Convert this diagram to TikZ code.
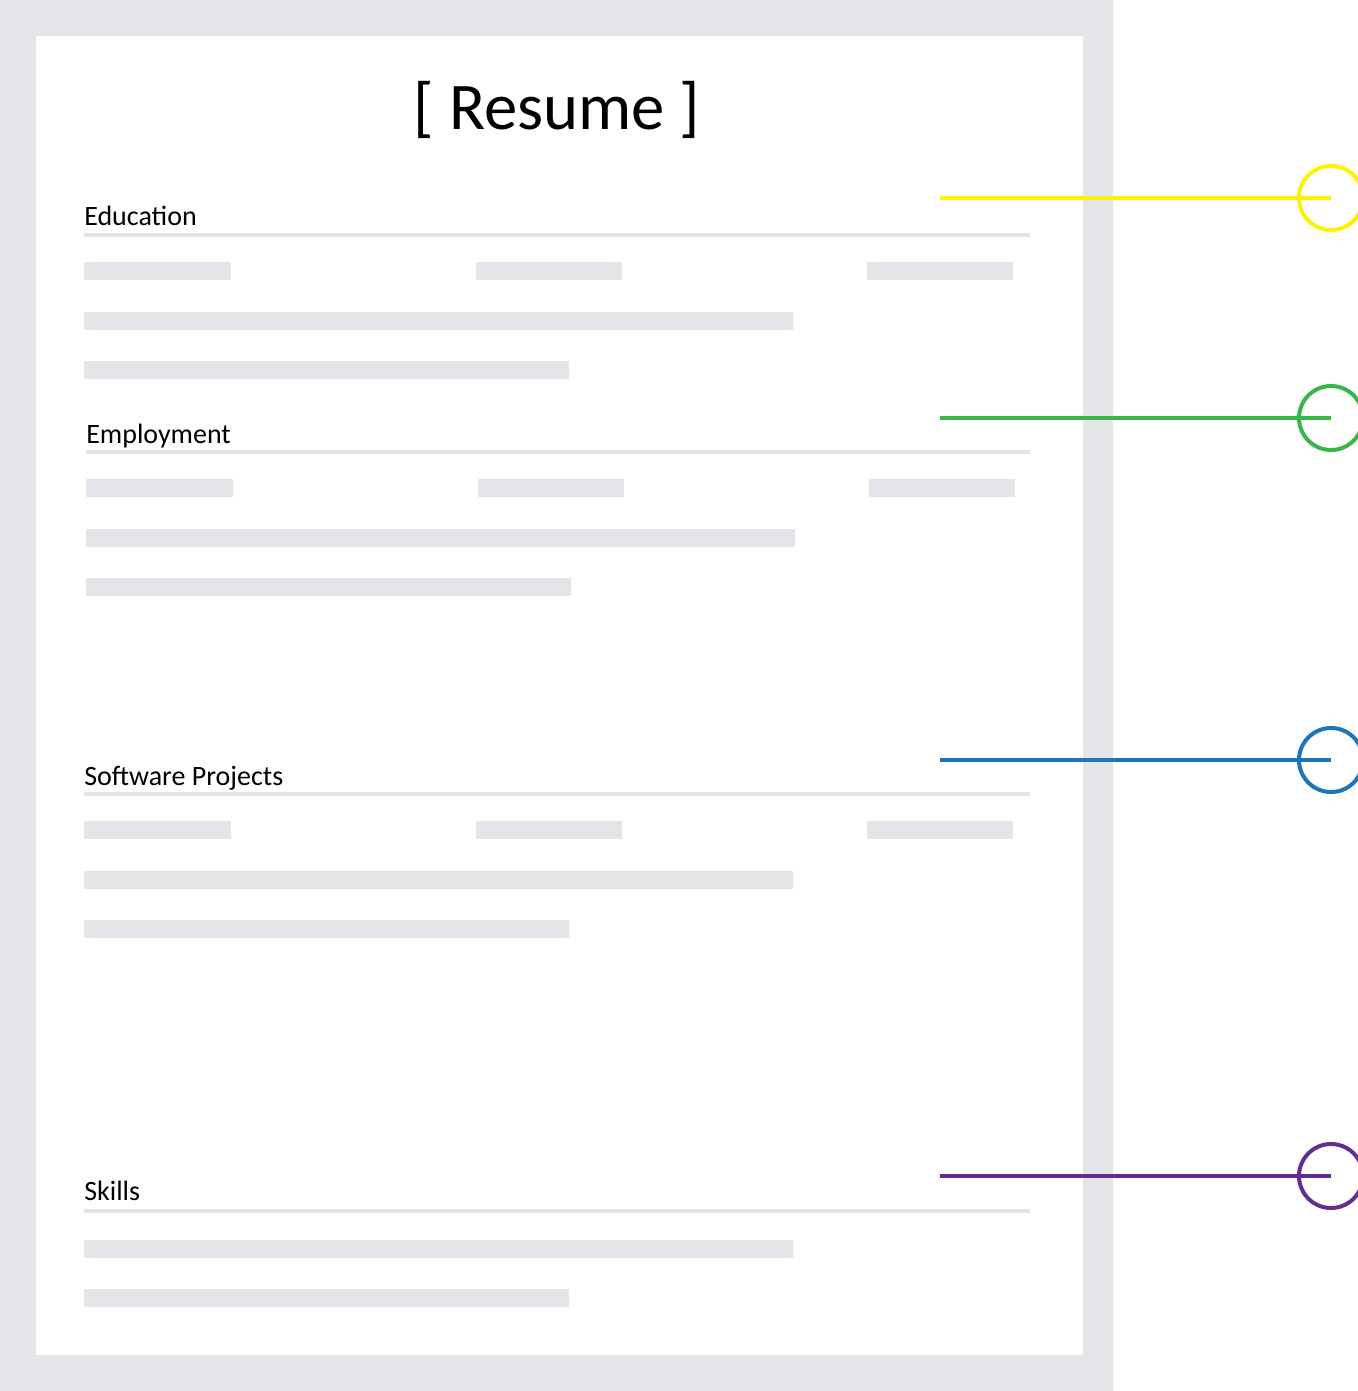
\documentclass[tikz,border=0pt]{standalone}
\usepackage{fontspec}
\setmainfont{Carlito}
\definecolor{fr}{HTML}{E3E5E8}
\definecolor{cy}{HTML}{FFF200}
\definecolor{cg}{HTML}{39B54A}
\definecolor{cb}{HTML}{1C75BC}
\definecolor{cp}{HTML}{662D91}
\begin{document}
\begin{tikzpicture}[x=0.75pt,y=-0.75pt,
  bar/.style={fill=fr,draw=none},
  rule/.style={draw=fr,line width=3pt},
  head/.style={anchor=base west,inner sep=0pt,font=\fontsize{21}{24}\selectfont},
  ring/.style={circle,draw=#1,line width=3pt,minimum size=48pt,inner sep=0pt},
  conn/.style={draw=#1,line width=3pt}]
\useasboundingbox (0,0) rectangle (1358,1391);
\fill[fr] (0,0) rectangle (1113,1391);
\fill[white] (36,36) rectangle (1083,1355);
\node[anchor=base,inner sep=0pt,font=\fontsize{50}{56}\selectfont] (title) at (557,130) {[ Resume ]};
% sections
\foreach \n/\t/\hy/\ry/\dx in {ed/Education/225/235/0, em/Employment/443/452/2, sw/Software Projects/785/794/0}{
  \node[head] (\n) at (84+\dx,\hy) {\t};
  \draw[rule] (84+\dx,\ry) -- (1030,\ry);
  \fill[bar] (84+\dx,\ry+27) rectangle ++(147,18);
  \fill[bar] (476+\dx,\ry+27) rectangle ++(146,18);
  \fill[bar] (867+\dx,\ry+27) rectangle ++(146,18);
  \fill[bar] (84+\dx,\ry+77) rectangle (793+\dx,\ry+95);
  \fill[bar] (84+\dx,\ry+126) rectangle (569+\dx,\ry+144);
}
\node[head] (sk) at (84,1200) {Skills};
\draw[rule] (84,1211) -- (1030,1211);
\fill[bar] (84,1240) rectangle (793,1258);
\fill[bar] (84,1289) rectangle (569,1307);
% markers
\foreach \n/\c/\y in {a/cy/198, b/cg/418, c/cb/760, d/cp/1176}{
  \node[ring=\c] (r\n) at (1331,\y) {};
  \coordinate (s\n) at (940,\y);
  \draw[conn=\c] (s\n) -- (r\n.center);
}
\end{tikzpicture}
\end{document}
